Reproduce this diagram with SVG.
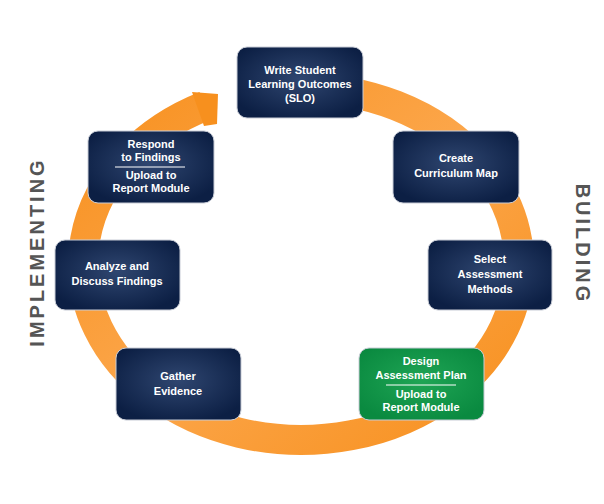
<svg xmlns="http://www.w3.org/2000/svg" width="604" height="504" viewBox="0 0 604 504">
<defs>
<radialGradient id="nav" cx="50%" cy="45%" r="60%"><stop offset="0" stop-color="#2f4670"/><stop offset="1" stop-color="#0c1f44"/></radialGradient>
<radialGradient id="grn" cx="50%" cy="45%" r="60%"><stop offset="0" stop-color="#1fa555"/><stop offset="1" stop-color="#0a8a40"/></radialGradient>
<linearGradient id="org" x1="0" y1="0" x2="1" y2="1"><stop offset="0" stop-color="#f7901e"/><stop offset="0.5" stop-color="#fca64a"/><stop offset="1" stop-color="#f7901e"/></linearGradient>
<style>
.n{fill:url(#nav);stroke:#c8ccd6;stroke-width:1}
.g{fill:url(#grn);stroke:#c8ccd6;stroke-width:1}
.t{font-family:"Liberation Sans",Arial,sans-serif;font-weight:bold;font-size:11px;fill:#fff;text-anchor:middle}
.s{font-family:"Liberation Sans",Arial,sans-serif;font-weight:bold;font-size:20px;fill:#555;text-anchor:middle;letter-spacing:3px}
.l{stroke:#fff;stroke-width:1}
</style>
</defs>
<g id="connectors">
<path d="M300 88 A218 176 0 1 1 205 106" fill="none" stroke="url(#org)" stroke-width="30"/>
<polygon points="192,92 218,94 217,124 204,126" fill="#f7901e"/>
</g>
<g id="n1"><rect class="n" x="237" y="47" width="126" height="71" rx="10"/>
<text class="t" x="300" y="74">Write Student</text><text class="t" x="300" y="88">Learning Outcomes</text><text class="t" x="300" y="102">(SLO)</text></g>
<g id="n2"><rect class="n" x="393" y="131" width="126" height="72" rx="10"/>
<text class="t" x="456" y="162">Create</text><text class="t" x="456" y="177">Curriculum Map</text></g>
<g id="n3"><rect class="n" x="428" y="240" width="124" height="70" rx="10"/>
<text class="t" x="490" y="263">Select</text><text class="t" x="490" y="278">Assessment</text><text class="t" x="490" y="293">Methods</text></g>
<g id="n4"><rect class="g" x="359" y="348" width="125" height="72" rx="10"/>
<text class="t" x="421" y="365">Design</text><text class="t" x="421" y="379">Assessment Plan</text><line class="l" x1="386" y1="385" x2="456" y2="385"/><text class="t" x="421" y="398">Upload to</text><text class="t" x="421" y="411">Report Module</text></g>
<g id="n5"><rect class="n" x="116" y="348" width="125" height="72" rx="10"/>
<text class="t" x="178" y="380">Gather</text><text class="t" x="178" y="395">Evidence</text></g>
<g id="n6"><rect class="n" x="55" y="240" width="125" height="70" rx="10"/>
<text class="t" x="117" y="270">Analyze and</text><text class="t" x="117" y="285">Discuss Findings</text></g>
<g id="n7"><rect class="n" x="88" y="131" width="126" height="72" rx="10"/>
<text class="t" x="151" y="148">Respond</text><text class="t" x="151" y="161">to Findings</text><line class="l" x1="115" y1="167" x2="185" y2="167"/><text class="t" x="151" y="179">Upload to</text><text class="t" x="151" y="192">Report Module</text></g>
<text class="s" transform="translate(576,244) rotate(90)">BUILDING</text>
<text class="s" transform="translate(44,252) rotate(-90)">IMPLEMENTING</text>
</svg>
